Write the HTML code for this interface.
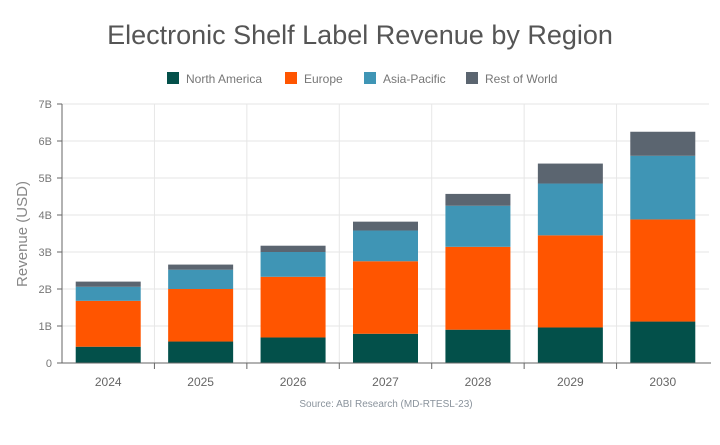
<!DOCTYPE html>
<html><head><meta charset="utf-8"><style>
body{margin:0;background:#fff;font-family:"Liberation Sans",sans-serif}
svg text{font-family:"Liberation Sans",sans-serif}
</style></head><body>
<svg width="720" height="440">
<text x="360" y="44" text-anchor="middle" font-size="27" fill="#555">Electronic Shelf Label Revenue by Region</text>
<g id="legend"></g>
<g id="grid"></g>
<g id="bars"></g>
<g id="axes"></g>
<text transform="translate(27,234) rotate(-90)" text-anchor="middle" font-size="15" fill="#888">Revenue (USD)</text>
<text x="386" y="407" text-anchor="middle" font-size="10" fill="#8a939c">Source: ABI Research (MD-RTESL-23)</text>
</svg>
<script>
const categories=["2024","2025","2026","2027","2028","2029","2030"];
const northAmerica=[0.44,0.58,0.69,0.79,0.90,0.96,1.12];
const europe=[1.24,1.42,1.64,1.96,2.24,2.49,2.76];
const asiaPacific=[0.38,0.52,0.67,0.83,1.11,1.40,1.72];
const restOfWorld=[0.14,0.14,0.17,0.24,0.32,0.54,0.65];
const yTicks=[0,1,2,3,4,5,6,7];
const yTickLabels=["0","1B","2B","3B","4B","5B","6B","7B"];
const seriesNames=["North America","Europe","Asia-Pacific","Rest of World"];
const series=[northAmerica,europe,asiaPacific,restOfWorld];
const colors=["#03504a","#ff5500","#3f95b5","#5b6570"];
const NS="http://www.w3.org/2000/svg";
const L=62,R=709,T=104,B=363,ymax=7;
const y=v=>B-(v/ymax)*(B-T);
const bw=(R-L)/categories.length;
const x=i=>L+bw*i;
function mk(tag,attrs,parent){const e=document.createElementNS(NS,tag);for(const k in attrs)e.setAttribute(k,attrs[k]);parent.appendChild(e);return e;}
const grid=document.getElementById('grid'),bars=document.getElementById('bars'),axes=document.getElementById('axes'),legend=document.getElementById('legend');
yTicks.forEach((t,i)=>{
 if(t>0){const g=mk('line',{x1:L,x2:R,y1:y(t),y2:y(t),stroke:'#e6e6e6','stroke-width':1},grid);
 
 }
 const tk=mk('line',{x1:L-5,x2:L,y1:y(t),y2:y(t),stroke:'#666'},axes);
 
 
 const lb=mk('text',{x:L-10,y:y(t)+4,'text-anchor':'end','font-size':11,fill:'#777'},axes);
 lb.textContent=yTickLabels[i];
 
 
});
for(let i=1;i<categories.length;i++){
 const g=mk('line',{x1:x(i),x2:x(i),y1:T,y2:B,stroke:'#e6e6e6'},grid);
 
 
 const tk=mk('line',{x1:x(i),x2:x(i),y1:B,y2:B+6,stroke:'#666'},axes);
 
 
}
categories.forEach((c,i)=>{
 let base=0;
 const w=65,cx=x(i)+bw/2;
 series.forEach((s,j)=>{
  const r=mk('rect',{x:cx-w/2,y:y(base+s[i]),width:w,height:y(base)-y(base+s[i]),fill:colors[j]},bars);
  
  
  base+=s[i];
 });
 const lb=mk('text',{x:cx,y:386,'text-anchor':'middle','font-size':12,fill:'#666'},axes);
 lb.textContent=c;
 
 
});
const ya=mk('line',{x1:L,x2:L,y1:T,y2:B,stroke:'#666'},axes);


const xa=mk('line',{x1:L-5,x2:R+2,y1:B,y2:B,stroke:'#666'},axes);


const lx=[167,285,364,466];
seriesNames.forEach((n,j)=>{
 const g=mk('g',{},legend);
 
 
 mk('rect',{x:lx[j],y:72,width:12,height:12,fill:colors[j]},g);
 const t=mk('text',{x:lx[j]+19,y:83,'font-size':12,fill:'#777'},g);
 t.textContent=n;
});
</script>
</body></html>
